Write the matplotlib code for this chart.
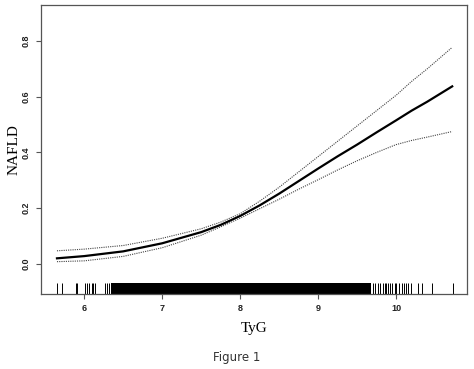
import matplotlib
matplotlib.use("Agg")
import matplotlib.pyplot as plt
import matplotlib.transforms as mtransforms

# smoothed curve of NAFLD vs TyG with 95% band
tyg = [5.65, 6.0, 6.5, 7.0, 7.5, 7.75, 8.0, 8.25, 8.5, 8.75, 9.0, 9.25, 9.5,
       9.75, 10.0, 10.2, 10.4, 10.72]
fit = [0.020, 0.028, 0.045, 0.074, 0.114, 0.140, 0.172, 0.210, 0.252, 0.297,
       0.342, 0.386, 0.428, 0.472, 0.515, 0.550, 0.582, 0.637]
upper = [0.047, 0.053, 0.066, 0.092, 0.126, 0.150, 0.180, 0.225, 0.275, 0.330,
         0.385, 0.440, 0.495, 0.550, 0.605, 0.655, 0.700, 0.777]
lower = [0.008, 0.011, 0.027, 0.058, 0.103, 0.133, 0.164, 0.198, 0.232, 0.268,
         0.302, 0.337, 0.370, 0.400, 0.428, 0.443, 0.455, 0.475]

# rug of observed TyG values (sparse tails + dense block in the middle)
rug_left = [5.646, 5.714, 5.89, 5.91, 6.013, 6.035, 6.06, 6.095, 6.115, 6.137,
            6.265, 6.287, 6.317]
rug_dense = (6.34, 9.68)
rug_right = [9.70, 9.727, 9.77, 9.80, 9.833, 9.855, 9.876, 9.897, 9.919, 9.954,
             9.983, 10.005, 10.04, 10.07, 10.10, 10.13, 10.154, 10.197, 10.28,
             10.33, 10.467, 10.73]

xticks = [6, 7, 8, 9, 10]
yticks = [0.0, 0.2, 0.4, 0.6, 0.8]

fig = plt.figure(figsize=(4.74, 3.69), dpi=100)
ax = fig.add_axes([41 / 474, 1 - 294 / 369, 426 / 474, 289 / 369])

ax.plot(tyg, fit, color="black", lw=1.6)
ax.plot(tyg, upper, color="#444444", lw=0.8, ls=(0, (1, 1)))
ax.plot(tyg, lower, color="#444444", lw=0.8, ls=(0, (1, 1)))

trans = mtransforms.blended_transform_factory(ax.transData, ax.transAxes)
rug_h = 0.038
ax.vlines(rug_left + rug_right, 0, rug_h, transform=trans, color="black", lw=0.7)
ax.broken_barh([(rug_dense[0], rug_dense[1] - rug_dense[0])], (0, rug_h),
               transform=trans, color="black", lw=0)

ax.set_xlim(5.445, 10.91)
ax.set_ylim(-0.108, 0.929)
ax.set_xticks(xticks)
ax.set_xticklabels([str(t) for t in xticks])
ax.set_yticks(yticks)
ax.set_yticklabels([f"{t:.1f}" for t in yticks], rotation=90, va="center")

for s in ax.spines.values():
    s.set_color("#555555")
    s.set_linewidth(0.9)
ax.tick_params(direction="out", length=3.5, width=0.8, color="#555555",
               labelsize=6.5, pad=4)
for lab in ax.get_xticklabels() + ax.get_yticklabels():
    lab.set_family("Liberation Sans")
    lab.set_fontweight("bold")
    lab.set_color("#222222")

ax.set_xlabel("TyG", family="Liberation Serif", fontsize=11, labelpad=6)
ax.set_ylabel("NAFLD", family="Liberation Serif", fontsize=11, labelpad=1)

fig.text(0.5, 1 - 357 / 369, "Figure 1", ha="center", va="center",
         fontsize=8.5, color="#333333", family="DejaVu Sans")

fig.savefig("out.png", dpi=100)
